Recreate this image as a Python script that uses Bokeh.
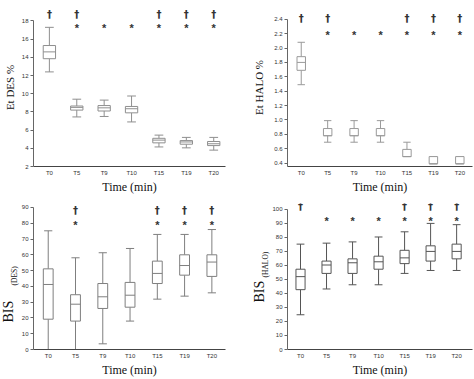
from bokeh.plotting import figure
from bokeh.layouts import gridplot
from bokeh.models import ColumnDataSource, Title, FixedTicker
from bokeh.core.properties import value
from bokeh.embed import file_html
from bokeh.resources import INLINE

times = ["T0", "T5", "T9", "T10", "T15", "T19", "T20"]

# Et DES %
des_low = [12.4, 7.45, 7.5, 6.9, 4.15, 4.05, 3.8]
des_q1 = [13.85, 8.2, 8.1, 7.9, 4.6, 4.45, 4.3]
des_med = [14.6, 8.5, 8.45, 8.35, 4.9, 4.7, 4.5]
des_q3 = [15.3, 8.65, 8.7, 8.6, 5.1, 4.85, 4.75]
des_high = [17.3, 9.4, 9.3, 9.75, 5.45, 5.2, 5.2]
des_yticks = [2, 4, 6, 8, 10, 12, 14, 16, 18]

# Et HALO %
halo_low = [1.49, 0.69, 0.69, 0.69, 0.49, 0.39, 0.39]
halo_q1 = [1.69, 0.78, 0.78, 0.78, 0.49, 0.39, 0.39]
halo_med = [1.80, 0.78, 0.78, 0.78, 0.49, 0.39, 0.39]
halo_q3 = [1.88, 0.88, 0.88, 0.88, 0.59, 0.49, 0.49]
halo_high = [2.08, 0.99, 0.99, 0.99, 0.69, 0.49, 0.49]
halo_yticks = [0.4, 0.6, 0.8, 1.0, 1.2, 1.4, 1.6, 1.8, 2.0, 2.2, 2.4]
halo_ylabels = ["0.4", "0.6", "0.8", "1.0", "1.2", "1.4", "1.6", "1.8", "2.0", "2.2", "2.4"]

# BIS (DES)
bisd_low = [0, 0, 3.6, 18, 31.9, 33.8, 35.9]
bisd_q1 = [19.2, 18, 26, 26.8, 41.8, 47.1, 46.3]
bisd_med = [41.2, 28.7, 33.4, 34.4, 48.2, 53.2, 55.4]
bisd_q3 = [51.1, 34.7, 41.8, 42.5, 56, 60, 60]
bisd_high = [75.2, 58.1, 61.3, 64, 72.9, 72.9, 76]
bisd_yticks = [0, 10, 20, 30, 40, 50, 60, 70, 80, 90]

# BIS (HALO)
bish_low = [24.8, 43.2, 46.2, 46.2, 54.3, 56.4, 56.4]
bish_q1 = [42.7, 54.3, 54.3, 57.3, 61.3, 63.1, 64.7]
bish_med = [52, 60.3, 61.9, 62.6, 65.4, 70, 70]
bish_q3 = [57.3, 63.1, 64.7, 66.6, 70.8, 74, 75.2]
bish_high = [75.2, 75.9, 76.8, 80.3, 84, 90, 89.1]
bish_yticks = [0, 10, 20, 30, 40, 50, 60, 70, 80, 90, 100]

# significance marks (index of time point)
des_dagger = [0, 1, 4, 5, 6]
des_star = [1, 2, 3, 4, 5, 6]
halo_dagger = [0, 1, 4, 5, 6]
halo_star = [1, 2, 3, 4, 5, 6]
bisd_dagger = [1, 4, 5, 6]
bisd_star = [1, 4, 5, 6]
bish_dagger = [0, 4, 5, 6]
bish_star = [1, 2, 3, 4, 5, 6]

SERIF = "Liberation Serif"
SANS = "Liberation Sans"
MARK = "#333333"


def make_fig(width, height, xr, yr, bounds, yticks, ylabel, mb, ylabels=None, ylab_standoff=3):
    p = figure(width=width, height=height, x_range=xr, y_range=yr,
               output_backend="svg", toolbar_location=None, title=None,
               min_border_left=mb[0], min_border_right=mb[1],
               min_border_top=mb[2], min_border_bottom=mb[3])
    p.xgrid.visible = False
    p.ygrid.visible = False
    p.outline_line_color = None
    p.background_fill_color = "white"
    p.border_fill_color = "white"
    xa = p.xaxis[0]
    xa.ticker = FixedTicker(ticks=list(range(len(times))))
    xa.major_label_overrides = {i: t for i, t in enumerate(times)}
    xa.major_tick_out = 0
    xa.major_tick_in = 0
    xa.minor_tick_out = 0
    xa.minor_tick_in = 0
    xa.axis_line_color = "#444444"
    xa.major_label_text_font = SANS
    xa.major_label_text_font_size = "6px"
    xa.major_label_text_line_height = 1.0
    xa.major_label_text_color = "#333333"
    xa.major_label_standoff = 3
    xa.axis_label = "Time (min)"
    xa.axis_label_text_font = SERIF
    xa.axis_label_text_font_style = "normal"
    xa.axis_label_text_font_size = "12px"
    xa.axis_label_text_line_height = 1.0
    xa.axis_label_text_color = "#111111"
    xa.axis_label_standoff = 1
    ya = p.yaxis[0]
    ya.ticker = FixedTicker(ticks=yticks)
    if ylabels:
        ya.major_label_overrides = {t: l for t, l in zip(yticks, ylabels)}
    ya.bounds = bounds
    ya.major_tick_out = 3
    ya.major_tick_in = 0
    ya.minor_tick_out = 0
    ya.minor_tick_in = 0
    ya.axis_line_color = "#666666"
    ya.major_tick_line_color = "#666666"
    ya.major_label_text_font = SANS
    ya.major_label_text_font_size = "6px"
    ya.major_label_text_line_height = 1.0
    ya.major_label_text_color = "#333333"
    ya.major_label_standoff = 2
    ya.axis_label = ylabel
    ya.axis_label_text_font = SERIF
    ya.axis_label_text_font_style = "normal"
    ya.axis_label_text_font_size = "11px"
    ya.axis_label_text_line_height = 1.0
    ya.axis_label_text_color = "#111111"
    ya.axis_label_standoff = ylab_standoff
    return p


def boxplot(p, low, q1, med, q3, high, box_w, cap_w, color):
    xs = list(range(len(times)))
    src = ColumnDataSource(dict(
        x=xs, low=low, q1=q1, med=med, q3=q3, high=high,
        bl=[x - box_w / 2 for x in xs], br=[x + box_w / 2 for x in xs],
        cl=[x - cap_w / 2 for x in xs], cr=[x + cap_w / 2 for x in xs]))
    kw = dict(source=src, line_color=color, line_width=1)
    p.segment(x0="x", y0="low", x1="x", y1="q1", **kw)
    p.segment(x0="x", y0="q3", x1="x", y1="high", **kw)
    p.segment(x0="cl", y0="low", x1="cr", y1="low", **kw)
    p.segment(x0="cl", y0="high", x1="cr", y1="high", **kw)
    p.quad(left="bl", right="br", bottom="q1", top="q3", fill_color="white", **kw)
    p.segment(x0="bl", y0="med", x1="br", y1="med", **kw)


def marks(p, idx, level, char, font, size, style, yoff):
    src = ColumnDataSource(dict(x=idx, y=[level] * len(idx), t=[char] * len(idx)))
    p.text(x="x", y="y", text="t", source=src, text_align="center",
           text_baseline="middle", text_font=value(font), text_font_size=size,
           text_font_style=style, text_color=MARK, y_offset=yoff)


def bis_label(p, small, big_offset, small_offset):
    # small part nearest to the axis, big "BIS" further out, both on the left side
    p.add_layout(Title(text=small, align="left", offset=small_offset, standoff=0,
                       text_font=SERIF, text_font_size="7.5px", text_font_style="normal",
                       text_color="#111111", text_line_height=1.0,
                       vertical_align="bottom"), "left")
    p.add_layout(Title(text="BIS", align="left", offset=big_offset, standoff=-16,
                       text_font=SERIF, text_font_size="14px", text_font_style="normal",
                       text_color="#111111", text_line_height=1.0,
                       vertical_align="bottom"), "left")


# Top-left: Et DES %
p1 = make_fig(236, 200, (-0.58, 6.43), (2, 19.37), (2, 18), des_yticks, "Et DES %", (31, 11, 5, 30))
boxplot(p1, des_low, des_q1, des_med, des_q3, des_high, 0.45, 0.32, "#8f8f8f")
marks(p1, des_dagger, 18.7, "†", "DejaVu Sans", "10px", "bold", 0)
marks(p1, des_star, 17.6, "*", SANS, "11px", "bold", 3)

# Top-right: Et HALO %
p2 = make_fig(237, 200, (-0.52, 6.48), (0.352, 2.55), (0.352, 2.4), halo_yticks, "Et HALO %",
              (48, 1, 8, 34), halo_ylabels, ylab_standoff=6)
boxplot(p2, halo_low, halo_q1, halo_med, halo_q3, halo_high, 0.32, 0.28, "#9a9a9a")
marks(p2, halo_dagger, 2.41, "†", "DejaVu Sans", "10px", "bold", 0)
marks(p2, halo_star, 2.23, "*", SANS, "11px", "bold", 3)

# Bottom-left: BIS (DES)
p3 = make_fig(236, 179, (-0.54, 6.5), (0, 92.5), (0, 90), bisd_yticks, "", (32, 8, 3, 30))
boxplot(p3, bisd_low, bisd_q1, bisd_med, bisd_q3, bisd_high, 0.36, 0.3, "#7f7f7f")
marks(p3, bisd_dagger, 88.3, "†", "DejaVu Sans", "10px", "bold", 0)
marks(p3, bisd_star, 80.5, "*", SANS, "11px", "bold", 3)
bis_label(p3, "(DES)", 27, 64)

# Bottom-right: BIS (HALO)
p4 = make_fig(237, 179, (-0.5, 6.61), (0, 104.2), (0, 100), bish_yticks, "", (51, 0, 0, 30))
boxplot(p4, bish_low, bish_q1, bish_med, bish_q3, bish_high, 0.35, 0.3, "#555555")
marks(p4, bish_dagger, 101.9, "†", "DejaVu Sans", "10px", "bold", 0)
marks(p4, bish_star, 93.7, "*", SANS, "11px", "bold", 3)
bis_label(p4, "(HALO)", 47, 72)

grid = gridplot([[p1, p2], [p3, p4]], toolbar_location=None)

open("out.html", "w").write(file_html(grid, INLINE))
